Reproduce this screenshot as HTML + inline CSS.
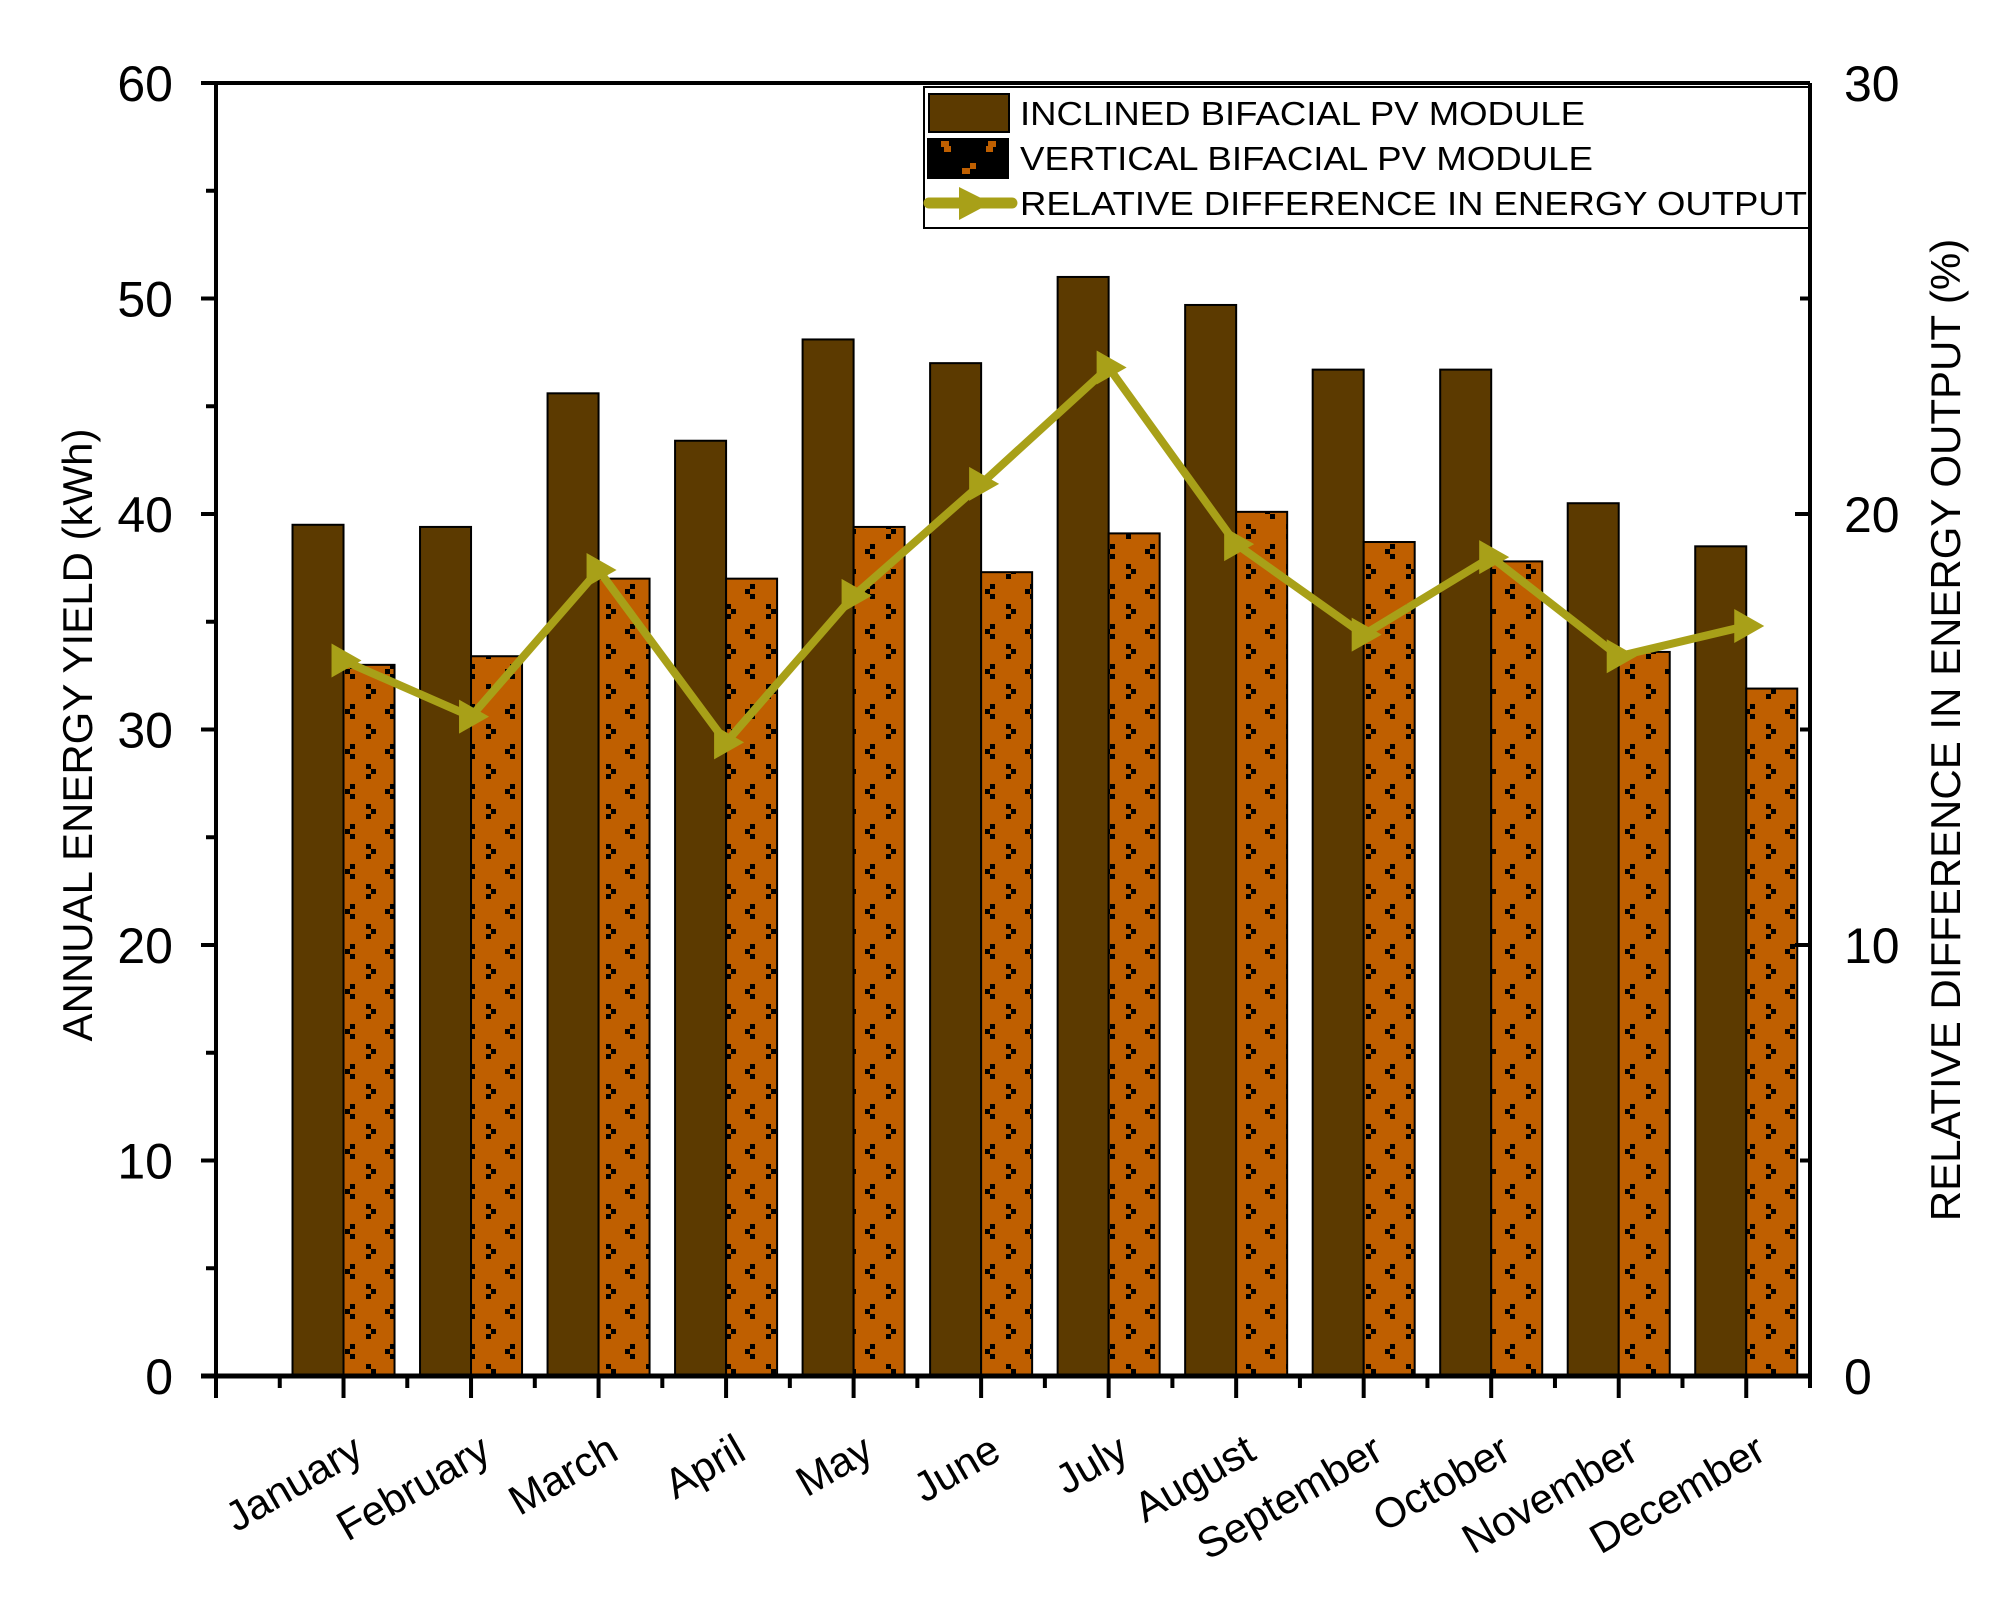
<!DOCTYPE html>
<html><head><meta charset="utf-8"><style>
body{margin:0;background:#fff}
svg{display:block;font-family:"Liberation Sans",Arial,sans-serif}
</style></head><body>
<svg id="chart" width="1996" height="1600" viewBox="0 0 1996 1600" xmlns="http://www.w3.org/2000/svg">
<defs>
<pattern id="dots" patternUnits="userSpaceOnUse" width="40" height="40">
<rect width="40" height="40" fill="#BF5F00"/>
<rect x="6" y="4" width="5" height="5" fill="#000"/><rect x="11" y="9" width="5" height="5" fill="#000"/><rect x="6" y="14" width="5" height="5" fill="#000"/>
<rect x="30" y="24" width="5" height="5" fill="#000"/><rect x="25" y="29" width="5" height="5" fill="#000"/><rect x="30" y="34" width="5" height="5" fill="#000"/>
</pattern>
</defs>
<g id="bars"></g>
<g id="line"></g>
<g id="axes"></g>
<g>
<rect x="924" y="87" width="885" height="141" fill="#fff" stroke="#000" stroke-width="2"/>
<rect x="929" y="94" width="80" height="38" fill="#5C3A00" stroke="#000" stroke-width="2"/>
<text x="1020" y="125" font-size="33" textLength="565" lengthAdjust="spacingAndGlyphs">INCLINED BIFACIAL PV MODULE</text>
<rect x="927" y="138" width="82" height="41" fill="#000"/>
<rect x="941" y="141" width="8" height="6" fill="#BF5F00"/><rect x="944" y="146" width="7" height="6" fill="#BF5F00"/>
<rect x="988" y="141" width="8" height="6" fill="#BF5F00"/><rect x="986" y="146" width="7" height="6" fill="#BF5F00"/>
<rect x="970" y="163" width="6" height="6" fill="#BF5F00"/><rect x="962" y="168" width="8" height="6" fill="#BF5F00"/>
<text x="1020" y="170" font-size="33" textLength="573" lengthAdjust="spacingAndGlyphs">VERTICAL BIFACIAL PV MODULE</text>
<line x1="929" y1="203" x2="1012" y2="203" stroke="#A8A018" stroke-width="11" stroke-linecap="round"/>
<polygon points="959,187 991,203 959,220" fill="#A8A018"/>
<text x="1020" y="215" font-size="33" textLength="787" lengthAdjust="spacingAndGlyphs">RELATIVE DIFFERENCE IN ENERGY OUTPUT</text>
</g>
<text transform="translate(92,735) rotate(-90)" text-anchor="middle" font-size="42">ANNUAL ENERGY YIELD (kWh)</text>
<text transform="translate(1960,730) rotate(-90)" text-anchor="middle" font-size="42">RELATIVE DIFFERENCE IN ENERGY OUTPUT (%)</text>
<script>
const months = ["January","February","March","April","May","June","July","August","September","October","November","December"];
const inclined = [39.5,39.4,45.6,43.4,48.1,47.0,51.0,49.7,46.7,46.7,40.5,38.5];
const vertical = [33.0,33.4,37.0,37.0,39.4,37.3,39.1,40.1,38.7,37.8,33.6,31.9];
const relDiff = [16.6,15.3,18.7,14.7,18.1,20.7,23.4,19.3,17.2,19.0,16.7,17.4];
const leftTicks = [0,10,20,30,40,50,60];
const rightTicks = [0,10,20,30];

const X0=216,X1=1810,Y0=1376,Y1=83;
const xs = v => X0 + v/12.5*(X1-X0);
const yl = v => Y0 - v/60*(Y0-Y1);
const yr = v => Y0 - v/30*(Y0-Y1);
const NS="http://www.w3.org/2000/svg";
function mk(tag,attrs,parent,text){const e=document.createElementNS(NS,tag);for(const k in attrs)e.setAttribute(k,attrs[k]);if(text!==undefined)e.textContent=text;parent.appendChild(e);return e;}
const bars=document.getElementById('bars'),line=document.getElementById('line'),axes=document.getElementById('axes');
months.forEach((m,i)=>{
  const c=i+1;
  let b=mk('rect',{x:xs(c-0.4),y:yl(inclined[i]),width:xs(c)-xs(c-0.4),height:Y0-yl(inclined[i]),fill:'#5C3A00',stroke:'#000','stroke-width':2},bars);
  
  
  let v=mk('rect',{x:xs(c),y:yl(vertical[i]),width:xs(c+0.4)-xs(c),height:Y0-yl(vertical[i]),fill:'url(#dots)',stroke:'#000','stroke-width':2},bars);
  
  
});
const pts=relDiff.map((d,i)=>xs(i+1)+','+yr(d)).join(' ');
let pl=mk('polyline',{points:pts,fill:'none',stroke:'#A8A018','stroke-width':8,'stroke-linejoin':'miter'},line);


relDiff.forEach((d,i)=>{
  const x=xs(i+1),y=yr(d);
  let p=mk('polygon',{points:(x-12)+','+(y-17)+' '+(x+18)+','+y+' '+(x-12)+','+(y+17),fill:'#A8A018'},line);
  
  
});
mk('line',{x1:X0,y1:Y1,x2:X0,y2:Y0,stroke:'#000','stroke-width':4},axes);
mk('line',{x1:X1,y1:Y1,x2:X1,y2:Y0,stroke:'#000','stroke-width':4},axes);
mk('line',{x1:X0-15,y1:Y1,x2:X1,y2:Y1,stroke:'#000','stroke-width':4},axes);
mk('line',{x1:X0-15,y1:Y0,x2:X1+2,y2:Y0,stroke:'#000','stroke-width':5},axes);
for(let v=0;v<=60;v+=5){const maj=v%10===0;mk('line',{x1:X0-(maj?15:10),y1:yl(v),x2:X0,y2:yl(v),stroke:'#000','stroke-width':4},axes);}
leftTicks.forEach(v=>{let t=mk('text',{x:X0-43,y:yl(v)+18,'text-anchor':'end','font-size':50},axes,String(v));});
for(let v=0;v<=30;v+=5){const maj=v%10===0;mk('line',{x1:X1-(maj?15:10),y1:yr(v),x2:X1,y2:yr(v),stroke:'#000','stroke-width':4},axes);}
rightTicks.forEach(v=>{let t=mk('text',{x:X1+34,y:yr(v)+18,'font-size':50},axes,String(v));});
for(let k=0;k<=25;k++){const v=k/2,maj=k%2===0;mk('line',{x1:xs(v),y1:Y0,x2:xs(v),y2:Y0+(maj?22:12),stroke:'#000','stroke-width':4},axes);}
months.forEach((m,i)=>{const x=xs(i+1)+22,y=Y0+82;let t=mk('text',{transform:'translate('+x+','+y+') rotate(-30)','text-anchor':'end','font-size':42},axes,m);});
</script>
</svg>
</body></html>
